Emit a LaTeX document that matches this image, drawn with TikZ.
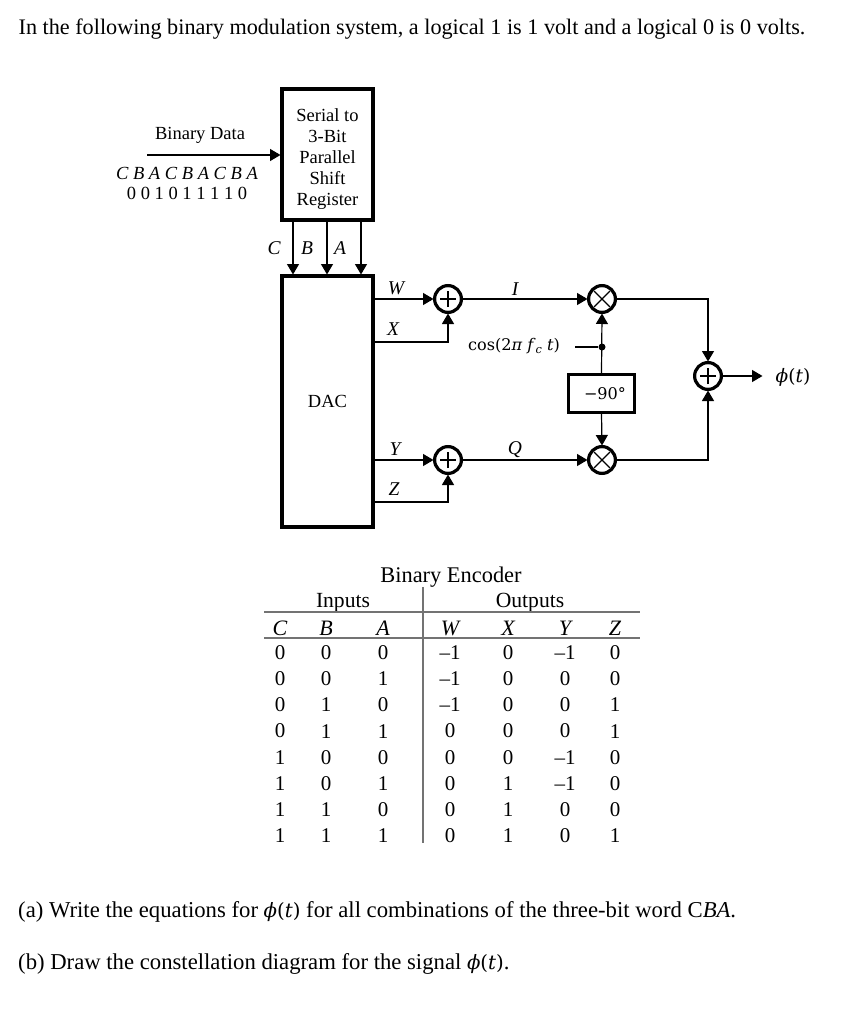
\documentclass[tikz,border=0pt]{standalone}
\usepackage{fontspec}
\setmainfont{Liberation Serif}
\newfontfamily\mth{DejaVu Serif}[Scale=0.87]
\usetikzlibrary{arrows.meta}

\newcommand{\phit}{{\mth\textit{ϕ}(\textit{t})}}

\tikzset{
  txt/.style={inner sep=0pt,font=\fontsize{#1}{21}\selectfont},
  txt/.default=18.5,
  line/.style={line width=1.2pt},
  arr/.style={line width=1.2pt,-{Triangle[length=10.5pt,width=12pt]},shorten >=-0.5pt},
  blk/.style={draw,line width=4pt,inner sep=0pt},
  opc/.style={circle,draw,line width=3.2pt,minimum size=26.8pt,inner sep=0pt},
  sum/.style={opc,path picture={
    \draw[line width=1.2pt] (path picture bounding box.center) +(-8pt,0) -- +(8pt,0)
      (path picture bounding box.center) +(0,-8pt) -- +(0,8pt);}},
  mul/.style={opc,path picture={
    \draw[line width=1.2pt] (path picture bounding box.center) +(-8pt,-8pt) -- +(8pt,8pt)
      (path picture bounding box.center) +(-8pt,8pt) -- +(8pt,-8pt);}},
  rule/.style={line width=1.2pt,draw=black!55},
}

\begin{document}
\begin{tikzpicture}[x=1pt,y=-1pt]
\useasboundingbox (0,0) rectangle (857,1024);

% ---------- question text ----------
\node[txt=22.2] (head) at (412,29) {In the following binary modulation system, a logical 1 is 1 volt and a logical 0 is 0 volts.};
\node[txt=22.7,anchor=west] (parta) at (18,912) {(a) Write the equations for \phit{} for all combinations of the three-bit word C\textit{BA}.};
\node[txt=22.7,anchor=west] (partb) at (18,964) {(b) Draw the constellation diagram for the signal \phit{}.};

% ---------- blocks ----------
\node[blk,txt,draw,line width=4pt,minimum width=91pt,minimum height=131pt,align=center] (sr) at (327.5,154.5)
  {\rule{0pt}{21pt}Serial to\\3-Bit\\Parallel\\Shift\\Register};
\node[blk,txt,draw,line width=4pt,minimum width=91pt,minimum height=251pt] (dac) at (327.5,401.5) {DAC};

\node[sum] (a1) at (448,299) {};
\node[sum] (a2) at (448,460) {};
\node[mul] (m1) at (602,299) {};
\node[mul] (m2) at (602,460) {};
\node[sum] (s) at (708,376) {};
\node[draw,line width=3pt,minimum width=66pt,minimum height=38pt,inner sep=0pt,font=\fontsize{18.5}{21}\selectfont\mth] (ph) at (601.5,393.5) {\hspace{7pt}−90°};
\node[circle,fill=black,minimum size=7pt,inner sep=0pt] (j) at (602,347) {};

% ---------- free ends ----------
\coordinate (din) at (147,155);
\coordinate (cx) at (293,0);
\coordinate (bx) at (327,0);
\coordinate (ax) at (361,0);
\coordinate (xin) at (375,342);
\coordinate (zin) at (375,502);
\coordinate (cin) at (575,347);
\coordinate (out) at (762,376);

% ---------- connectors ----------
\draw[arr] (din) -- (din -| sr.west);
\draw[arr] (sr.south -| cx) -- (dac.north -| cx);
\draw[arr] (sr.south -| bx) -- (dac.north -| bx);
\draw[arr] (sr.south -| ax) -- (dac.north -| ax);
\draw[arr] (dac.east |- a1) -- (a1.west);
\draw[arr] (dac.east |- a2) -- (a2.west);
\draw[arr] (xin) -| (a1.south);
\draw[arr] (zin) -| (a2.south);
\draw[arr] (a1.east) -- (m1.west);
\draw[arr] (a2.east) -- (m2.west);
\draw[arr] (ph.north) -- (m1.south);
\draw[arr] (ph.south) -- (m2.north);
\draw[line] (cin) -- (j);
\draw[arr] (m1.east) -| (s.north);
\draw[arr] (m2.east) -| (s.south);
\draw[arr] (s.east) -- (out);

% ---------- labels ----------
\node[txt] (ldata) at (200,135) {Binary Data};
\node[txt,font=\fontsize{18.5}{21}\selectfont\itshape] (lcba) at (187,173) {C B A C B A C B A};
\node[txt] (lbits) at (187,193) {0 0 1 0 1 1 1 1 0};
\foreach \n/\t/\px/\py in {lc/C/274/248,lb/B/307/248,la/A/340/248,lw/W/396/288,lx/X/393/329,ly/Y/395/449,lz/Z/394/489,li/I/515/289,lq/Q/515/450}
  \node[txt,font=\fontsize{19.5}{21}\selectfont\itshape] (\n) at (\px,\py) {\t};
\node[txt=18.5,font=\fontsize{18.5}{21}\selectfont\mth] (lcos) at (514,346) {cos(2\textit{π f}\raisebox{-3pt}{\fontsize{13}{13}\selectfont\textit{c}} \textit{t})};
\node[txt=21.3] (lphi) at (793,377) {\phit};

% ---------- encoder table ----------
\node[txt=22.4] (title) at (451,577) {Binary Encoder};
\node[txt=21.6] (tin) at (343,603) {Inputs};
\node[txt=21.6] (tout) at (530,603) {Outputs};
\draw[rule] (423,587) -- (423,843);
\draw[rule] (264,612) -- (640,612);
\draw[rule] (264,638) -- (640,638);
\foreach \n/\t/\px in {c/C/280,b/B/326,a/A/383,w/W/450,x/X/508,y/Y/565,z/Z/615}
  \node[txt,font=\fontsize{22}{21}\selectfont\itshape] (h\n) at (\px,628) {\t};
\foreach \vc/\vb/\va/\vw/\vx/\vy/\vz [count=\i from 0] in {
  0/0/0/–1/0/–1/0,
  0/0/1/–1/0/0/0,
  0/1/0/–1/0/0/1,
  0/1/1/0/0/0/1,
  1/0/0/0/0/–1/0,
  1/0/1/0/1/–1/0,
  1/1/0/0/1/0/0,
  1/1/1/0/1/0/1}{
  \foreach \n/\t/\px in {c/\vc/280,b/\vb/326,a/\va/383,w/\vw/450,x/\vx/508,y/\vy/565,z/\vz/615}
    \node[txt=21] (r\i\n) at (\px,652.5+26.2*\i) {\t};
}
\end{tikzpicture}
\end{document}
